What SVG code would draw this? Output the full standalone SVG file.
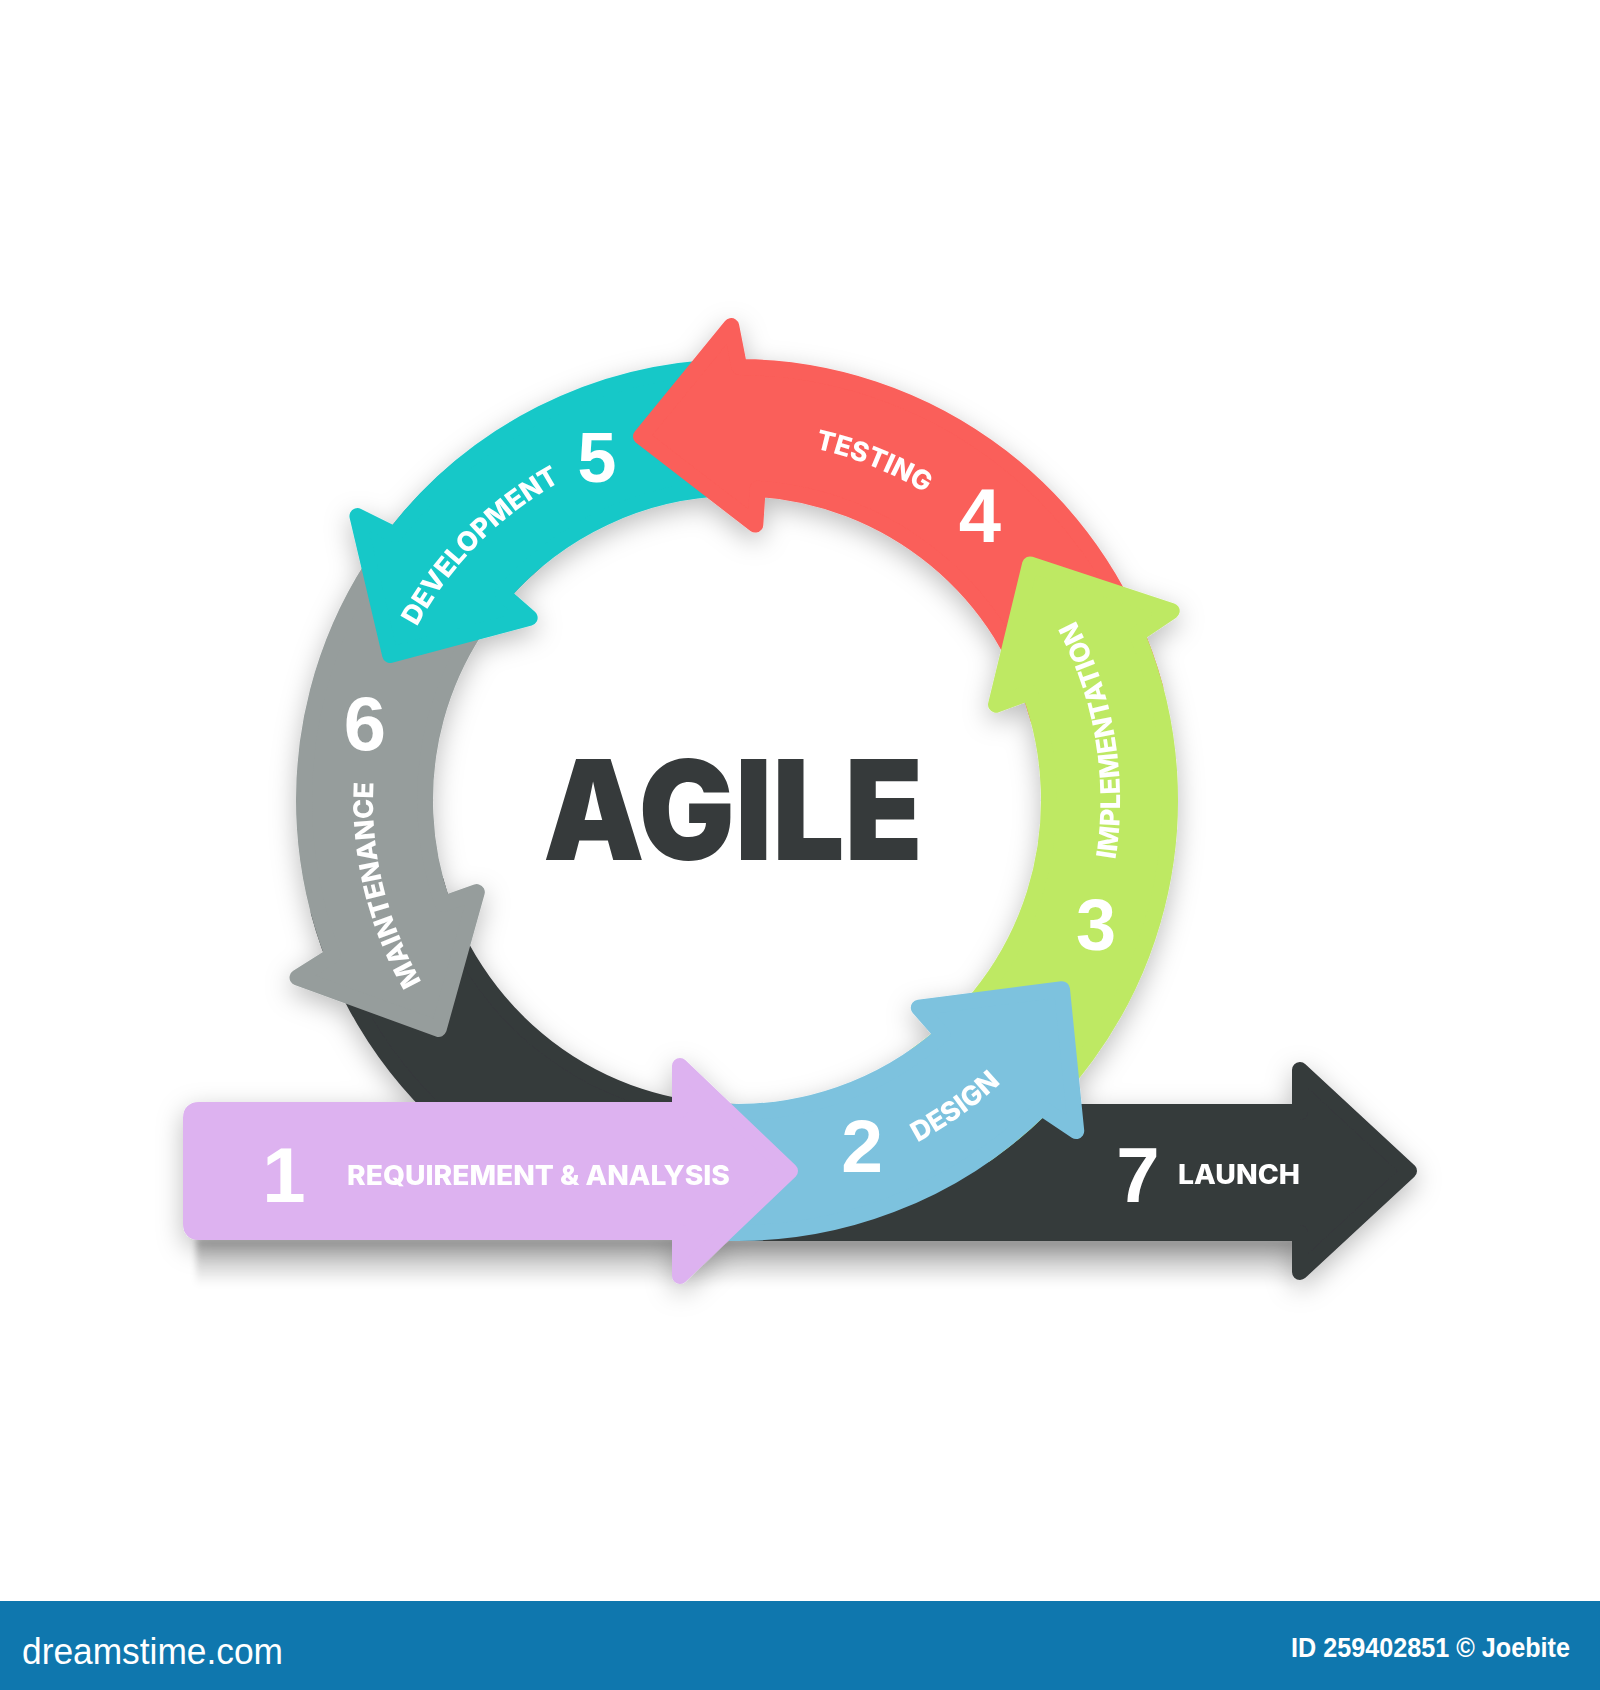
<svg xmlns="http://www.w3.org/2000/svg" width="1600" height="1690" viewBox="0 0 1600 1690">
  <defs>
    <style>
      .lbl { font-family: Inter, "Liberation Sans", Arial, sans-serif; font-weight: 800; fill: #ffffff; font-size: 27px; }
      .num { font-family: "Liberation Sans", Arial, sans-serif; font-weight: 700; fill: #ffffff; text-anchor: middle; }
      .shape { stroke-width: 16; stroke-linejoin: round; }
      .purple { fill: #ddb2f0; stroke: #ddb2f0; }
      .blue { fill: #7dc2de; stroke: #7dc2de; }
      .green { fill: #bee964; stroke: #bee964; }
      .red { fill: #fa5e5a; stroke: #fa5e5a; }
      .teal { fill: #16c8c8; stroke: #16c8c8; }
      .gray { fill: #969d9c; stroke: #969d9c; }
      .dark { fill: #363a3b; stroke: #363a3b; }
    </style>
    <filter id="shadow" x="-20%" y="-20%" width="140%" height="140%">
      <feGaussianBlur in="SourceAlpha" stdDeviation="13"/>
      <feOffset dx="0" dy="8" result="b"/>
      <feFlood flood-color="#000000" flood-opacity="0.26"/>
      <feComposite in2="b" operator="in"/>
      <feMerge><feMergeNode/><feMergeNode in="SourceGraphic"/></feMerge>
    </filter>
    <filter id="soft" x="-5%" y="-50%" width="110%" height="200%">
      <feGaussianBlur stdDeviation="3"/>
    </filter>
    <linearGradient id="refl" x1="0" y1="0" x2="0" y2="1">
      <stop offset="0" stop-color="#000" stop-opacity="0.32"/>
      <stop offset="1" stop-color="#000" stop-opacity="0"/>
    </linearGradient>
    <path id="pTesting" d="M 567.99 482.14 A 360 360 0 0 1 1079.38 688.75"/>
    <path id="pDevelopment" d="M 374.56 833.62 A 364 364 0 0 1 766.83 437.22"/>
    <path id="pMaintenance" d="M 575.15 1126.04 A 364 364 0 0 1 444.08 583.91"/>
    <path id="pImplementation" d="M 1028.24 1048.74 A 383 383 0 0 0 931.39 470.00"/>
    <path id="pDesign" d="M 639.45 1174.50 A 387 387 0 0 0 1122.75 831.04"/>
  </defs>

  <rect x="0" y="0" width="1600" height="1690" fill="#ffffff"/>

  <!-- reflection shadow under the bars -->
  <rect x="196" y="1238" width="1100" height="48" fill="url(#refl)" filter="url(#soft)"/>

  <g id="diagram" filter="url(#shadow)">
    <g id="step7">
      <path class="shape dark" d="M 318.75 912.07 A 433 433 0 0 0 737 1233 L 1300 1233 L 1300 1272 L 1409 1171 L 1300 1070 L 1300 1112 L 737 1112 A 312 312 0 0 1 435.63 880.75 Z"/>
      <text class="num" x="1138" y="1202" font-size="78">7</text>
      <text class="lbl" x="1178" y="1184" font-size="29" textLength="122" lengthAdjust="spacingAndGlyphs">LAUNCH</text>
    </g>
    <g id="step6">
      <path class="shape gray" d="M 458.67 468.30 A 433 433 0 0 0 332.76 955.17 L 297.52 977.57 L 438.70 1028.89 L 476.83 892.13 L 442.90 904.15 A 312 312 0 0 1 536.45 561.00 Z"/>
      <text class="num" x="365" y="750" font-size="76">6</text>
      <text class="lbl"><textPath href="#pMaintenance" startOffset="50%" text-anchor="middle">MAINTENANCE</textPath></text>
    </g>
    <g id="step5">
      <path class="shape teal" d="M 725.66 367.15 A 433 433 0 0 0 394.86 534.61 L 357.45 516.06 L 390.13 654.90 L 529.65 617.84 L 502.61 594.08 A 312 312 0 0 1 728.83 488.11 Z"/>
      <text class="num" x="597" y="482" font-size="70">5</text>
      <text class="lbl"><textPath href="#pDevelopment" startOffset="50%" text-anchor="middle">DEVELOPMENT</textPath></text>
    </g>
    <g id="step4">
      <path class="shape red" d="M 1155.25 687.93 A 433 433 0 0 0 739.27 367.00 L 731.21 326.03 L 640.95 436.48 L 755.29 524.61 L 757.68 488.69 A 312 312 0 0 1 1038.37 719.25 Z"/>
      <text class="num" x="980" y="542" font-size="76">4</text>
      <text class="lbl"><textPath href="#pTesting" startOffset="50%" text-anchor="middle">TESTING</textPath></text>
    </g>
    <g id="step3">
      <path class="shape green" d="M 985.36 1154.69 A 433 433 0 0 0 1137.04 634.30 L 1171.69 610.99 L 1030.03 564.40 L 996.02 704.70 L 1029.81 692.27 A 312 312 0 0 1 915.96 1055.57 Z"/>
      <text class="num" x="1096" y="950" font-size="72">3</text>
      <text class="lbl"><textPath href="#pImplementation" startOffset="50%" text-anchor="middle">IMPLEMENTATION</textPath></text>
    </g>
    <g id="step2">
      <path class="shape blue" d="M 714.34 1232.41 A 433 433 0 0 0 1041.57 1107.78 L 1076.24 1131.05 L 1061.97 989.14 L 918.80 1007.67 L 942.51 1034.75 A 312 312 0 0 1 720.67 1111.57 Z"/>
      <text class="num" x="862" y="1172" font-size="75">2</text>
      <text class="lbl" font-size="30"><textPath href="#pDesign" startOffset="50%" text-anchor="middle">DESIGN</textPath></text>
    </g>
    <g id="step1">
      <path class="shape purple" d="M 199 1110 L 680 1110 L 680 1066 L 790 1171 L 680 1276 L 680 1232 L 199 1232 Q 191 1232 191 1224 L 191 1118 Q 191 1110 199 1110 Z"/>
      <text class="num" x="284" y="1202" font-size="78">1</text>
      <text class="lbl" x="347" y="1185" font-size="30" textLength="383" lengthAdjust="spacingAndGlyphs">REQUIREMENT &amp; ANALYSIS</text>
    </g>
  </g>

  <g id="connectors"/>

  <g id="center">
    <text x="733" y="860" font-family="Inter, 'Liberation Sans', Arial, sans-serif" font-weight="900" font-size="139" fill="#363a3b" text-anchor="middle" textLength="380" lengthAdjust="spacingAndGlyphs">AGILE</text>
  </g>

  <g id="banner">
    <rect x="0" y="1601" width="1600" height="89" fill="#0f77ae"/>
    <text x="22" y="1664" font-family="'Liberation Sans', Arial, sans-serif" font-size="36" fill="#ffffff" textLength="261" lengthAdjust="spacingAndGlyphs">dreamstime.com</text>
    <text x="1570" y="1657" font-family="'Liberation Sans', Arial, sans-serif" font-weight="700" font-size="27" fill="#ffffff" text-anchor="end" textLength="279" lengthAdjust="spacingAndGlyphs">ID 259402851 © Joebite</text>
  </g>
</svg>
